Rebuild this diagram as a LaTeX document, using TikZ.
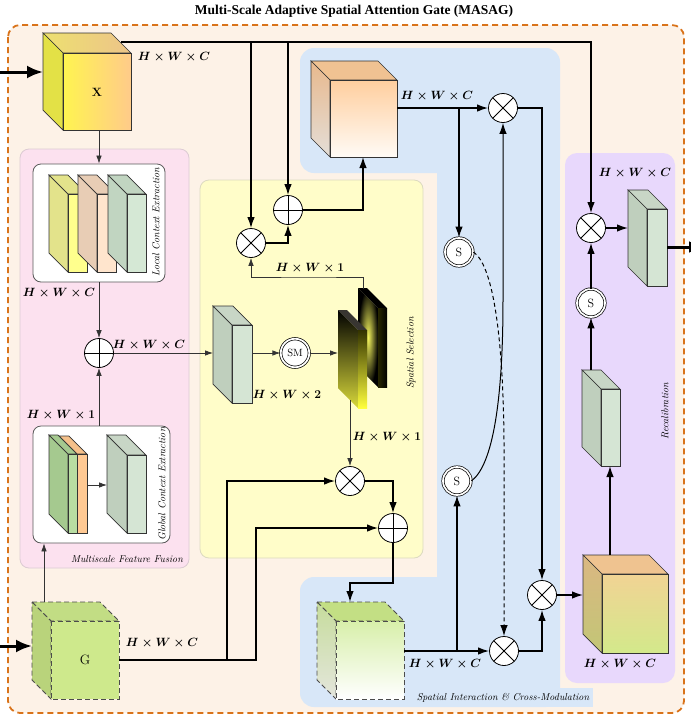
\documentclass[tikz,border=0pt]{standalone}
\usepackage{fontspec}
\usepackage{amsmath}
\usetikzlibrary{arrows.meta,calc,shadings}
\newfontfamily\titlefont{Liberation Serif}
\definecolor{bgcream}{HTML}{FDF2E7}
\definecolor{bgorange}{HTML}{D9731A}
\definecolor{rpink}{HTML}{FCE1EF}
\definecolor{rpinkb}{HTML}{DCCBD3}
\definecolor{ryellow}{HTML}{FFFDC9}
\definecolor{ryellowb}{HTML}{DCDAC0}
\definecolor{rblue}{HTML}{D8E7F8}
\definecolor{rpurple}{HTML}{E8D8FC}
\definecolor{edge}{HTML}{333333}
\definecolor{xtopL}{HTML}{EDE070}\definecolor{xtopR}{HTML}{EDC489}
\definecolor{xleft}{HTML}{E3E146}\definecolor{xfrontL}{HTML}{FFF450}\definecolor{xfrontR}{HTML}{FFCB8A}
\definecolor{ttop}{HTML}{F0C292}\definecolor{tleftT}{HTML}{E8B88C}\definecolor{tleftB}{HTML}{E4DED8}
\definecolor{tfrontT}{HTML}{FFCE9E}\definecolor{tfrontB}{HTML}{FFFBF6}
\definecolor{dtop}{HTML}{C3DF84}\definecolor{dleftT}{HTML}{C6DC9C}\definecolor{dleftB}{HTML}{E4E6DC}
\definecolor{dfrontT}{HTML}{D8EFAA}\definecolor{dfrontB}{HTML}{FFFFFF}
\definecolor{gtop}{HTML}{C2DD84}\definecolor{gleft}{HTML}{B9D37B}\definecolor{gfront}{HTML}{CEE98C}
\definecolor{ptop}{HTML}{EFC390}\definecolor{pleftT}{HTML}{DBB782}\definecolor{pleftB}{HTML}{C2C676}
\definecolor{pfrontT}{HTML}{F1D394}\definecolor{pfrontB}{HTML}{D3E98B}
\definecolor{sltop}{HTML}{C8D6C6}\definecolor{slleft}{HTML}{BFCFBD}\definecolor{slfront}{HTML}{D5E5D4}
\definecolor{yaleft}{HTML}{E3E38B}\definecolor{yafront}{HTML}{FFFF8D}
\definecolor{paleft}{HTML}{E8CDB5}\definecolor{pafront}{HTML}{FFE5CD}
\definecolor{galeft}{HTML}{C1D5C1}\definecolor{gafront}{HTML}{D5E8D5}
\definecolor{ggleft}{HTML}{A5C98F}\definecolor{ggfront}{HTML}{B8DDA2}
\definecolor{gofront}{HTML}{FFC993}\definecolor{gotop}{HTML}{F5C08A}
\definecolor{mleftB}{HTML}{D8D83A}\definecolor{mfrontB}{HTML}{FFFF3C}
\definecolor{mglow}{HTML}{F4F45C}
\newcommand{\slabfaces}[9]{%
  \path[#6,#9] (#1-#5,#2-#5) -- (#3-#5,#2-#5) -- (#3,#2) -- (#1,#2) -- cycle;
  \path[#7,#9] (#1-#5,#2-#5) -- (#1,#2) -- (#1,#4) -- (#1-#5,#4-#5) -- cycle;
  \path[#8,#9] (#1,#2) rectangle (#3,#4);}
\newcommand{\hwlab}[1]{{\boldmath$H\times W\times #1$}}
\begin{document}
\begin{tikzpicture}[x=1pt,y=-1pt,
  thk/.style={line width=1.4pt, draw=black, -{Latex[length=11pt,width=7.5pt]}},
  thn/.style={line width=0.75pt, draw=black!80, -{Latex[length=8pt,width=5.5pt]}},
  bigarr/.style={line width=3pt, draw=black, -{Latex[length=16pt,width=13pt]}},
  circbase/.style={circle, draw=black, line width=0.8pt, fill=white, minimum size=29pt, inner sep=0pt},
  otimes/.style={circbase, path picture={\draw[line width=0.8pt] (path picture bounding box.north west) -- (path picture bounding box.south east) (path picture bounding box.south west) -- (path picture bounding box.north east);}},
  oplus/.style={circbase, path picture={\draw[line width=0.8pt] (path picture bounding box.north) -- (path picture bounding box.south) (path picture bounding box.west) -- (path picture bounding box.east);}},
  sig/.style={circle, draw=black, line width=0.7pt, double=white, double distance=1.7pt, fill=white, minimum size=28pt, inner sep=0pt, font=\fontsize{12}{12}\selectfont},
  dimlab/.style={font=\fontsize{12}{14}\selectfont, inner sep=0pt},
  reglab/.style={font=\fontsize{10}{11}\selectfont\itshape, inner sep=0pt},
  wbox/.style={draw=black!65, line width=0.8pt, fill=white, rounded corners=8pt, inner sep=0pt},
  cubeedge/.style={draw=edge, line width=0.7pt},
  dashedge/.style={draw=black!70, line width=0.8pt, dash pattern=on 5pt off 3pt},
]
\useasboundingbox (0,0) rectangle (691,716);
% title
\node[font=\titlefont\bfseries\fontsize{13.5}{15}\selectfont, inner sep=0pt] (title) at (354,11) {Multi-Scale Adaptive Spatial Attention Gate (MASAG)};
% outer region
\draw[bgorange, fill=bgcream, line width=1.8pt, dash pattern=on 6pt off 4pt, rounded corners=12pt] (8,25) rectangle (684,713);
% regions
\draw[rpinkb, fill=rpink, line width=0.8pt, rounded corners=9pt] (20,149) rectangle (189,568);
\draw[ryellowb, fill=ryellow, line width=0.8pt, rounded corners=9pt] (200,180) rectangle (423,558);
\fill[rblue, rounded corners=14pt] (300,48) rectangle (560,173);
\fill[rblue] (437,70) rectangle (560,690);
\fill[rblue, rounded corners=14pt] (300,577) rectangle (560,707);
\fill[rblue] (413,688) rectangle (593,707);
\fill[rpurple, rounded corners=12pt] (565,153) rectangle (675,683);
% region labels
\node[reglab] (mff) at (127,559) {Multiscale Feature Fusion};
\node[reglab, rotate=90] (ssl) at (411,353) {Spatial Selection};
\node[reglab] (sicm) at (503,698) {Spatial Interaction \& Cross-Modulation};
\node[reglab, rotate=90] (rcl) at (665,411) {Recalibration};
% white boxes
\node[wbox, minimum width=132pt, minimum height=118pt] (lbox) at (99,223) {};
\node[wbox, minimum width=137pt, minimum height=117pt] (gbox) at (101.5,484.5) {};
\node[reglab, rotate=90] (lce) at (156,222) {Local Context Extraction};
\node[reglab, rotate=90] (gce) at (162,484) {Global Context Extraction};
% local slabs
\slabfaces{68}{194}{87}{272}{19}{fill=yaleft}{fill=yaleft}{fill=yafront}{cubeedge}
\slabfaces{97}{194}{116}{272}{19}{fill=paleft}{fill=paleft}{fill=pafront}{cubeedge}
\slabfaces{127}{194}{146}{272}{19}{fill=galeft}{fill=galeft}{fill=gafront}{cubeedge}
% global slabs
\slabfaces{77}{454}{87}{533}{18}{fill=gotop}{fill=gotop}{fill=gofront}{cubeedge}
\slabfaces{68}{454}{77}{533}{19}{fill=ggleft}{fill=ggleft}{fill=ggfront}{cubeedge}
\slabfaces{127}{455}{146}{533}{20}{fill=sltop}{fill=slleft}{fill=slfront}{cubeedge}
% X cube
\slabfaces{63}{53}{131}{130}{20}{left color=xtopL,right color=xtopR}{fill=xleft}{left color=xfrontL,right color=xfrontR}{cubeedge}
\node[font=\bfseries\fontsize{12}{12}\selectfont] (xl) at (97,92) {X};
% G cube
\slabfaces{51}{621}{119}{699}{19}{fill=gtop}{fill=gleft}{fill=gfront}{dashedge}
\node[font=\fontsize{13.5}{13.5}\selectfont] (gl) at (85,660) {G};
% top blue cube
\slabfaces{330}{80}{397}{157}{19}{fill=ttop}{top color=tleftT,bottom color=tleftB}{top color=tfrontT,bottom color=tfrontB}{cubeedge}
% dashed cube
\slabfaces{336}{621}{404}{699}{19}{fill=dtop}{top color=dleftT,bottom color=dleftB}{top color=dfrontT,bottom color=dfrontB}{dashedge}
% purple cube
\slabfaces{602}{574}{668}{653}{19}{fill=ptop}{top color=pleftT,bottom color=pleftB}{top color=pfrontT,bottom color=pfrontB}{cubeedge}
% conv slab
\slabfaces{232}{325}{252}{403}{19}{fill=sltop}{fill=slleft}{fill=slfront}{cubeedge}
% recal slabs
\slabfaces{601}{389}{620}{466}{19}{fill=sltop}{fill=slleft}{fill=slfront}{cubeedge}
\slabfaces{647}{209}{667}{286}{19}{fill=sltop}{fill=slleft}{fill=slfront}{cubeedge}
% spatial maps
\slabfaces{378}{308}{387}{387}{20}{fill=black}{inner color=mglow,outer color=black}{left color=black!85!yellow,right color=black}{draw=none}
\slabfaces{358}{330}{367}{408}{20}{fill=black!90!yellow}{top color=black,bottom color=mleftB}{top color=black!80!yellow,bottom color=mfrontB}{draw=none}
% coordinates
\coordinate (Xtop) at (121,42);
\coordinate (Xb) at (99,130);
\coordinate (Xl) at (43,72); \coordinate (Xin) at (-2,72);
\coordinate (Tbot) at (363,157);
\coordinate (Tr) at (397,108);
\coordinate (M2top) at (363,289);
\coordinate (hw1) at (310,277);
\coordinate (Cl) at (213,353);
\coordinate (Cr) at (252,353);
\coordinate (M1l) at (338,353);
\coordinate (M1b) at (350,400);
\coordinate (Gr) at (119,660); \coordinate (g1) at (227,660); \coordinate (g2) at (256,660);
\coordinate (Gt) at (44,602);
\coordinate (Gl) at (32,646); \coordinate (Gin) at (-2,646);
\coordinate (d1) at (350,583); \coordinate (Dtop) at (350,602);
\coordinate (Dr) at (404,651);
\coordinate (Pl) at (583,595);
\coordinate (Ptop) at (610,555);
\coordinate (R1b) at (610,466);
\coordinate (R1t) at (591,370);
\coordinate (R2l) at (628,228);
\coordinate (R2r) at (667,247); \coordinate (Out) at (703,247);
\coordinate (GsR) at (87,485); \coordinate (GsL) at (107,485);
% operator nodes
\node[otimes] (m1) at (251,243) {};
\node[oplus] (a1) at (288,210) {};
\node[otimes] (t1) at (503,108) {};
\node[sig] (s1) at (459,252) {S};
\node[sig] (s2) at (457,481) {S};
\node[otimes] (t2) at (542,595) {};
\node[otimes] (t3) at (504,651) {};
\node[otimes] (m2) at (350,481) {};
\node[oplus] (a2) at (393,528) {};
\node[oplus] (a0) at (99,353) {};
\node[sig, font=\fontsize{10.5}{10.5}\selectfont, minimum size=28.5pt] (sm) at (295,353) {SM};
\node[otimes] (r1) at (591,228) {};
\node[sig] (rs) at (591,303) {S};
% connectors
\draw[bigarr] (Xin) -- (Xl);
\draw[bigarr] (Gin) -- (Gl);
\draw[thk] (Xtop) -| (r1);
\draw[thk] (Xtop -| m1) -- (m1);
\draw[thk] (Xtop -| a1) -- (a1);
\draw[thk] (m1) -| (a1);
\draw[thk] (a1) -| (Tbot);
\draw[thn] (M2top) |- (hw1) -| (m1);
\draw[thk] (Tr) -- (t1);
\draw[thk] (Tr -| s1) -- (s1);
\draw[thk] (t1) -| (t2);
\draw[thk, line width=1pt, dash pattern=on 4pt off 3pt] (s1.east) .. controls (492,264) and (503,330) .. (504,440) -- (t3.north);
\draw[thk, line width=1pt] (s2.east) .. controls (493,465) and (503,400) .. (503,300) -- (t1.south);
\draw[thk] (Dr) -- (t3);
\draw[thk] (Dr -| s2) -- (s2);
\draw[thk] (t3) -| (t2);
\draw[thk] (t2) -- (Pl);
\draw[thk] (Ptop) -- (R1b);
\draw[thk] (R1t) -- (rs);
\draw[thk] (rs) -- (r1);
\draw[thk] (r1) -- (R2l);
\draw[line width=3pt, -{Latex[length=14pt,width=12pt]}] (R2r) -- (Out);
\draw[thn] (Xb) -- (Xb |- lbox.north);
\draw[thn] (lbox.south -| a0) -- (a0);
\draw[thn] (gbox.north -| a0) -- (a0);
\draw[thn] (a0) -- (Cl);
\draw[thn] (Cr) -- (sm);
\draw[thn] (sm) -- (M1l);
\draw[thn] (M1b) -- (m2);
\draw[thk] (m2) -| (a2);
\draw[thk] (Gr) -- (g2) |- (a2);
\draw[thk] (g1) |- (m2);
\draw[thk] (a2) |- (d1) -- (Dtop);
\draw[thn] (Gt) -- (Gt |- gbox.south);
\draw[thn] (GsR) -- (GsL);
% dimension labels
\node[dimlab] (l1) at (174,57) {\hwlab{C}};
\node[dimlab] (l2) at (59,293) {\hwlab{C}};
\node[dimlab] (l3) at (149,345) {\hwlab{C}};
\node[dimlab] (l4) at (61,415) {\hwlab{1}};
\node[dimlab] (l5) at (287,395) {\hwlab{2}};
\node[dimlab] (l6) at (310,268) {\hwlab{1}};
\node[dimlab] (l7) at (387,437) {\hwlab{1}};
\node[dimlab] (l8) at (437,96) {\hwlab{C}};
\node[dimlab] (l9) at (635,173) {\hwlab{C}};
\node[dimlab] (l10) at (620,664) {\hwlab{C}};
\node[dimlab] (l11) at (162,643) {\hwlab{C}};
\node[dimlab] (l12) at (445,664) {\hwlab{C}};
\end{tikzpicture}
\end{document}
